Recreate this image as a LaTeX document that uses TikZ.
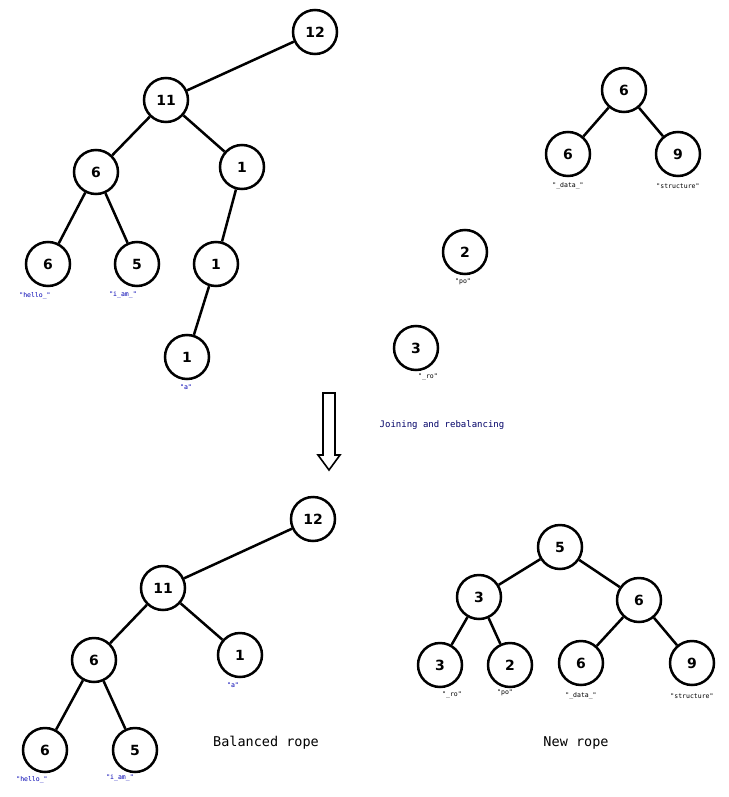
\documentclass[tikz,border=0pt]{standalone}
\usepackage{fontspec}
\setmainfont{DejaVu Sans}
\setmonofont{DejaVu Sans Mono}
\begin{document}
\begin{tikzpicture}[x=1pt,y=-1pt,
  nd/.style={circle,draw,line width=2.5pt,minimum size=44pt,inner sep=0pt,font=\fontsize{14}{14}\selectfont\bfseries},
  lbl/.style={font=\ttfamily\fontsize{6.5}{6.5}\selectfont,inner sep=0pt},
  ed/.style={line width=2.5pt}]
\useasboundingbox (0,0) rectangle (728,797);
% top left tree
\node[nd] (a12) at (315,32) {12};
\node[nd] (a11) at (166,100) {11};
\node[nd] (a6) at (96,172) {6};
\node[nd] (a1) at (242,167) {1};
\node[nd] (a6b) at (48,264) {6};
\node[nd] (a5) at (137,264) {5};
\node[nd] (a1b) at (216,264) {1};
\node[nd] (a1c) at (187,357) {1};
\draw[ed] (a12)--(a11) (a11)--(a6) (a11)--(a1) (a6)--(a6b) (a6)--(a5) (a1)--(a1b) (a1b)--(a1c);
\node[lbl,text=blue!70!black] (l1) at (35,296) {"hello\_"};
\node[lbl,text=blue!70!black] (l2) at (123,295) {"i\_am\_"};
\node[lbl,text=blue!70!black] (l3) at (186,387) {"a"};
% top right
\node[nd] (b6) at (624,90) {6};
\node[nd] (b6b) at (568,154) {6};
\node[nd] (b9) at (678,154) {9};
\draw[ed] (b6)--(b6b) (b6)--(b9);
\node[nd] (b2) at (465,252) {2};
\node[nd] (b3) at (416,348) {3};
\node[lbl] (l4) at (463,282) {"po"};
\node[lbl] (l5) at (428,377) {"\_ro"};
\node[lbl] (l6) at (568,186) {"\_data\_"};
\node[lbl] (l7) at (678,186) {"structure"};
% arrow
\draw[line width=1.6pt,fill=white] (323,393) -- (335,393) -- (335,455) -- (340,455) -- (329,470) -- (318,455) -- (323,455) -- cycle;
\node[font=\ttfamily\fontsize{9}{9}\selectfont,text=blue!40!black] (jt) at (442,425) {Joining and rebalancing};
% bottom left
\node[nd] (c12) at (313,519) {12};
\node[nd] (c11) at (163,588) {11};
\node[nd] (c6) at (94,660) {6};
\node[nd] (c1) at (240,655) {1};
\node[nd] (c6b) at (45,750) {6};
\node[nd] (c5) at (135,750) {5};
\draw[ed] (c12)--(c11) (c11)--(c6) (c11)--(c1) (c6)--(c6b) (c6)--(c5);
\node[lbl,text=blue!70!black] (m1) at (233,685) {"a"};
\node[lbl,text=blue!70!black] (m2) at (32,780) {"hello\_"};
\node[lbl,text=blue!70!black] (m3) at (120,778) {"i\_am\_"};
\node[font=\ttfamily\fontsize{13.5}{13.5}\selectfont] (bt) at (266,743) {Balanced rope};
% new rope
\node[nd] (d5) at (560,547) {5};
\node[nd] (d3) at (479,597) {3};
\node[nd] (d6) at (639,600) {6};
\node[nd] (d3b) at (440,665) {3};
\node[nd] (d2) at (510,665) {2};
\node[nd] (d6b) at (581,663) {6};
\node[nd] (d9) at (692,663) {9};
\draw[ed] (d5)--(d3) (d5)--(d6) (d3)--(d3b) (d3)--(d2) (d6)--(d6b) (d6)--(d9);
\node[lbl] (n1) at (452,695) {"\_ro"};
\node[lbl] (n2) at (505,693) {"po"};
\node[lbl] (n3) at (581,696) {"\_data\_"};
\node[lbl] (n4) at (692,696) {"structure"};
\node[font=\ttfamily\fontsize{13.5}{13.5}\selectfont] (nt) at (576,743) {New rope};
\end{tikzpicture}
\end{document}
